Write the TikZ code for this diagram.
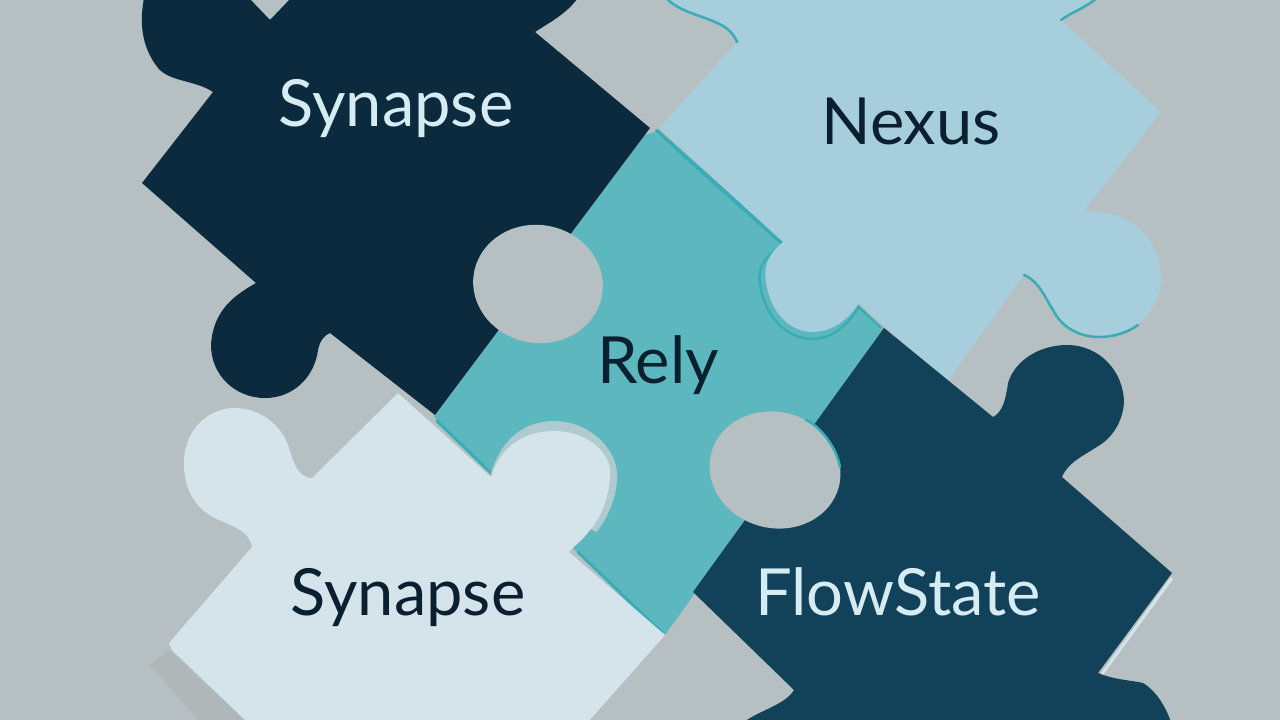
\documentclass[tikz,border=0pt]{standalone}
\usepackage{xcolor}
\usepackage{fontspec}
\setmainfont{Lato}
\definecolor{bgcol}{HTML}{B6BFC1}
\definecolor{navycol}{HTML}{0B2A3D}
\definecolor{deepcol}{HTML}{124259}
\definecolor{tealcol}{HTML}{5DB7BF}
\definecolor{edgecol}{HTML}{38ADB6}
\definecolor{skycol}{HTML}{A6CEDD}
\definecolor{palecol}{HTML}{D5E4EB}
\definecolor{gapcol}{HTML}{AFCBD0}
\definecolor{inkcol}{HTML}{0A2030}
\definecolor{lightink}{HTML}{D6ECF3}
\tikzset{
    label/.style={anchor=base,inner sep=0pt,font=\fontsize{65}{70}\selectfont},
    rim/.style={draw=edgecol,line width=2.5pt,line cap=round},
    hole/.style={fill=bgcol}
}
\begin{document}
\begin{tikzpicture}[x=1pt,y=-1pt]
    \useasboundingbox (0,0) rectangle (1280,720);
    \fill[bgcol] (0,0) rectangle (1280,720);
    \fill[bgcol!96!black] (169,650) -- (247,722) -- (200,722) -- (150,665) -- cycle;
    \fill[tealcol] (654,132) -- (884,328) -- (665,635) -- (434,417) -- (645,135) -- cycle;
    \draw[rim,line width=4pt] (657,131) -- (783,244);
    \draw[rim] (781,246) .. controls (765,256) and (757,268) .. (760,285) .. controls (765,318) and (788,339) .. (812,339) .. controls (830,339) and (846,328) .. (858,308);
    \draw[rim] (858,306) -- (880,327);
    \fill[skycol] (666,-2) .. controls (680,12) and (700,15) .. (715,22) .. controls (725,26) and (733,32) .. (737,42) -- (659,128) -- (783,242) .. controls (770,252) and (763,265) .. (766,282) .. controls (770,312) and (790,332) .. (812,332) .. controls (832,332) and (848,320) .. (859,303) -- (947,382) -- (1024,275) .. controls (1040,282) and (1045,298) .. (1053,310) .. controls (1062,328) and (1080,337) .. (1099,337) .. controls (1135,337) and (1161,310) .. (1161,277) .. controls (1161,240) and (1130,212) .. (1095,212) -- (1085,210) -- (1161,112) -- (1061,20) .. controls (1072,12) and (1085,8) .. (1097,-2) -- cycle;
    \draw[rim] (666,-2) .. controls (680,12) and (700,15) .. (715,22) .. controls (725,26) and (733,32) .. (737,42);
    \draw[rim] (1061,20) .. controls (1072,12) and (1085,8) .. (1097,-2);
    \draw[rim] (1024,275) .. controls (1040,282) and (1045,298) .. (1053,310) .. controls (1062,328) and (1080,337) .. (1099,337) .. controls (1115,337) and (1128,332) .. (1138,325);
    \draw[rim,line width=3pt] (437,421) -- (491,473);
    \draw[rim,line width=3pt] (578,552) -- (662,633);
    \fill[gapcol] (491,473) .. controls (498,450) and (515,422) .. (553,421) .. controls (592,421) and (619,452) .. (617,478) .. controls (617,497) and (606,522) .. (596,532) -- (540,500) -- cycle;
    \fill[palecol] (665,635) -- (588,722) -- (247,722) -- (172,650) -- (169,643) -- (252,547) .. controls (250,532) and (235,527) .. (219,520) .. controls (205,514) and (184,500) .. (184,463) .. controls (184,430) and (208,408) .. (235,408) .. controls (258,408) and (280,423) .. (288,445) .. controls (293,460) and (297,478) .. (312,478) -- (398,393) -- (491,477) .. controls (498,455) and (515,432) .. (553,431) .. controls (590,431) and (612,455) .. (610,475) .. controls (610,495) and (600,520) .. (590,530) .. controls (583,540) and (575,545) .. (569,552) -- cycle;
    \draw[palecol,line width=3pt] (1172,578) -- (1102,674);
    \fill[navycol] (144,-2) .. controls (140,20) and (140,45) .. (158,68) .. controls (170,82) and (195,80) .. (213,92) -- (142,183) -- (256,283) .. controls (235,295) and (213,310) .. (211,345) .. controls (211,375) and (235,398) .. (265,398) .. controls (295,398) and (315,375) .. (318,350) .. controls (320,340) and (325,335) .. (330,333) -- (435,415) -- (650,128) -- (535,32) .. controls (550,22) and (565,15) .. (578,-2) -- (291,-2) -- (270,20) -- (249,-2) -- cycle;
    \fill[deepcol] (884,328) -- (993,417) .. controls (1003,412) and (1006,398) .. (1008,383) .. controls (1015,360) and (1040,345) .. (1067,345) .. controls (1100,345) and (1124,372) .. (1124,403) .. controls (1122,425) and (1110,440) .. (1095,448) .. controls (1085,455) and (1068,462) .. (1062,477) -- (1172,573) -- (1098,673) .. controls (1115,680) and (1130,680) .. (1143,683) .. controls (1155,690) and (1165,705) .. (1171,722) -- (744,722) .. controls (760,710) and (785,705) .. (794,690) -- (693,592) -- cycle;
    \fill[hole,rotate around={-10:(538,284)}] (538,284) ellipse [x radius=65,y radius=59];
    \fill[hole,rotate around={-15:(775,470)}] (775,470) ellipse [x radius=66,y radius=58];
    \draw[rim] (806,420) .. controls (818,425) and (836,445) .. (840,467);
    \node[label,text=lightink] (synapsetop) at (396,126) {Synapse};
    \node[label,text=inkcol] (nexus) at (911,144) {Nexus};
    \node[label,text=inkcol] (rely) at (658,383) {Rely};
    \node[label,text=inkcol] (synapsebottom) at (408,615) {Synapse};
    \node[label,text=lightink] (flowstate) at (898,615) {FlowState};
\end{tikzpicture}
\end{document}
